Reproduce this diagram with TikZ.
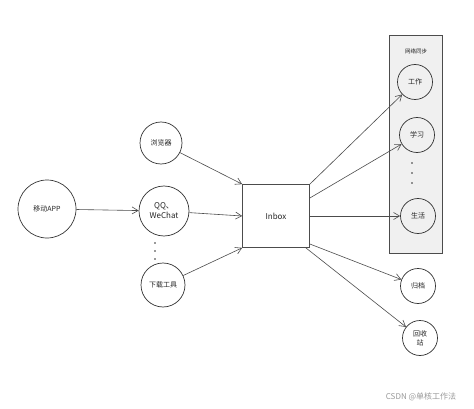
\documentclass[tikz,border=0pt]{standalone}
\usepackage{fontspec}
\newfontfamily\cjk{Noto Sans CJK SC}
\usetikzlibrary{arrows.meta}
\begin{document}
\begin{tikzpicture}[x=1pt,y=-1pt,
  every node/.style={font=\cjk\fontsize{7}{9}\selectfont, text=black!85},
  circ/.style={draw=black!80, circle, line width=0.7pt, inner sep=0pt, align=center},
  conn/.style={draw=black!70, line width=0.6pt, -{Straight Barb[length=6pt,width=7pt]}},
  dotc/.style={fill=black!80, circle, inner sep=0pt, minimum size=1.6pt}]
\useasboundingbox (0,0) rectangle (474,409);
\fill[white] (0,0) rectangle (474,409);
% group rectangle
\node[draw=black!70, fill=black!6, line width=0.7pt, minimum width=53pt, minimum height=218pt, inner sep=0pt] (grp) at (416,144) {};
\node[font=\cjk\fontsize{5.5}{7}\selectfont] (grptitle) at (416,51) {网络同步};
% left nodes
\node[circ, minimum size=58pt] (app) at (47,209) {移动APP};
\node[circ, minimum size=42pt] (browser) at (161,143) {浏览器};
\node[circ, minimum size=50pt, font=\cjk\fontsize{8}{10}\selectfont] (qq) at (164,211) {QQ、\\WeChat};
\node[circ, minimum size=44pt] (dl) at (163,285) {下载工具};
\node[dotc] (d1) at (155,243) {};
\node[dotc] (d2) at (155,251) {};
\node[dotc] (d3) at (155,259) {};
% inbox
\node[draw=black!70, line width=0.7pt, minimum width=67pt, minimum height=63pt, inner sep=0pt, font=\cjk\fontsize{8}{10}\selectfont] (inbox) at (276,216) {Inbox};
% right nodes
\node[circ, minimum size=35pt] (work) at (415,82) {工作};
\node[circ, minimum size=35pt] (study) at (417,135) {学习};
\node[circ, minimum size=35pt] (life) at (418,216) {生活};
\node[dotc] (e1) at (412,163) {};
\node[dotc] (e2) at (412,173) {};
\node[dotc] (e3) at (412,183) {};
\node[circ, minimum size=35pt] (archive) at (418,286) {归档};
\node[circ, minimum size=35pt, font=\cjk\fontsize{7}{9}\selectfont] (bin) at (420,338) {回收\\站};
% watermark
\node[font=\fontsize{8}{10}\selectfont\cjk, text=black!40] (wm) at (421,397) {CSDN @单核工作法};
% connectors
\draw[conn] (app) -- (qq);
\draw[conn] (browser) -- (inbox.north west);
\draw[conn] (qq) -- (inbox.west);
\draw[conn] (dl) -- (inbox.south west);
\draw[conn] (inbox.north east) -- (work);
\draw[conn] ([yshift=18pt]inbox.east) -- (study);
\draw[conn] (inbox.east) -- (life);
\draw[conn] ([yshift=-28pt]inbox.east) -- (archive);
\draw[conn] ([xshift=-4pt]inbox.south east) -- (bin);
\end{tikzpicture}
\end{document}
